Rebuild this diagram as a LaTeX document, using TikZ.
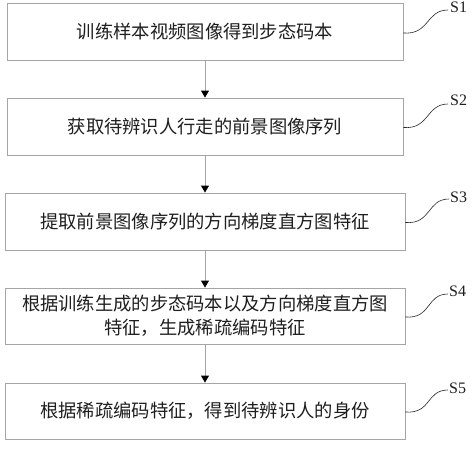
\documentclass[tikz,border=0pt]{standalone}
\usepackage{fontspec}
\setmainfont{Liberation Serif}
\newfontfamily\cjk{Noto Sans CJK SC}
\usetikzlibrary{arrows.meta}
\definecolor{boxgray}{RGB}{165,165,165}
\definecolor{txt}{RGB}{30,30,30}
\tikzset{
  stepbox/.style={draw=boxgray, line width=0.9pt, rectangle, inner sep=0pt,
    text=txt, font=\cjk\fontsize{18.3}{24}\selectfont, align=center},
  flow/.style={draw=boxgray, line width=0.9pt, -{Triangle[width=8pt,length=7pt,color=black]}},
  leader/.style={draw=black!85, line width=0.6pt},
  slabel/.style={anchor=west, inner sep=0pt, text=txt, font=\fontsize{16}{16}\selectfont}
}
\begin{document}
\begin{tikzpicture}[x=1pt,y=-1pt]
\useasboundingbox (0,0) rectangle (474,448);
\node[stepbox, minimum width=396pt, minimum height=56.5pt] (b1) at (205,32) {训练样本视频图像得到步态码本};
\node[stepbox, minimum width=396pt, minimum height=57pt] (b2) at (205,126.5) {获取待辨识人行走的前景图像序列};
\node[stepbox, minimum width=400pt, minimum height=57pt] (b3) at (205,221.5) {提取前景图像序列的方向梯度直方图特征};
\node[stepbox, minimum width=400pt, minimum height=56pt] (b4) at (205,316) {根据训练生成的步态码本以及方向梯度直方图\\特征，生成稀疏编码特征};
\node[stepbox, minimum width=400pt, minimum height=56pt] (b5) at (205,411) {根据稀疏编码特征，得到待辨识人的身份};
\draw[flow] (b1) -- (b2);
\draw[flow] (b2) -- (b3);
\draw[flow] (b3) -- (b4);
\draw[flow] (b4) -- (b5);
\coordinate (c1) at (448,10);
\coordinate (c2) at (448,104);
\coordinate (c3) at (449,199);
\coordinate (c4) at (448,294);
\coordinate (c5) at (448,390);
\draw[leader] ([yshift=-1pt]b1.east) .. controls +(26,2) and +(-22,0) .. (c1);
\draw[leader] ([yshift=-1pt]b2.east) .. controls +(26,2) and +(-22,0) .. (c2);
\draw[leader] ([yshift=-1pt]b3.east) .. controls +(26,2) and +(-22,0) .. (c3);
\draw[leader] ([yshift=-1pt]b4.east) .. controls +(26,2) and +(-22,0) .. (c4);
\draw[leader] ([yshift=-1pt]b5.east) .. controls +(26,2) and +(-22,0) .. (c5);
\node[slabel] (s1) at ([xshift=2pt,yshift=3pt]c1) {S1};
\node[slabel] (s2) at ([xshift=2pt,yshift=4pt]c2) {S2};
\node[slabel] (s3) at ([xshift=1pt,yshift=2pt]c3) {S3};
\node[slabel] (s4) at ([xshift=1pt,yshift=3pt]c4) {S4};
\node[slabel] (s5) at ([xshift=1pt,yshift=2pt]c5) {S5};
\end{tikzpicture}
\end{document}
